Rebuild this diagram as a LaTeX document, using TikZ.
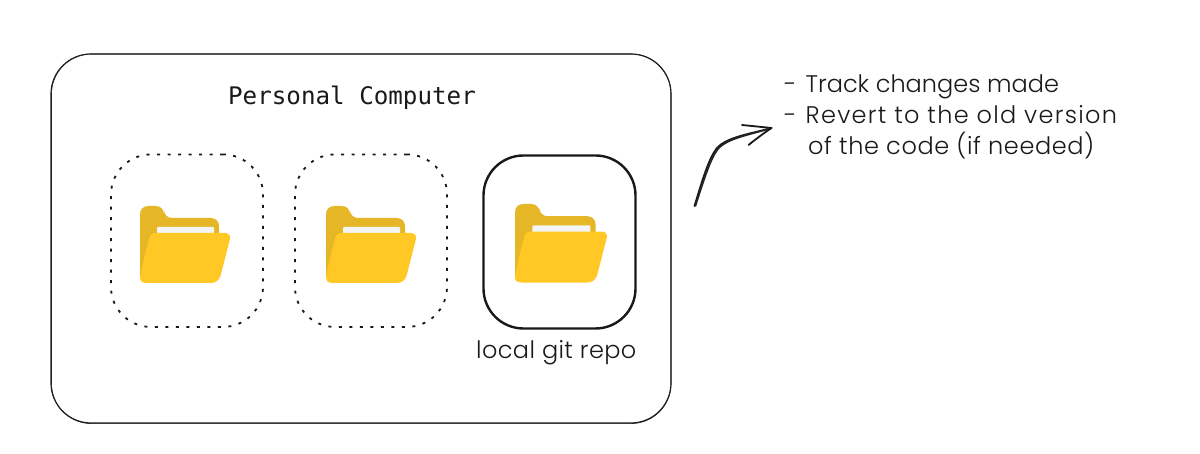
\documentclass[tikz,border=0pt]{standalone}
\usepackage{fontspec}
\newfontfamily\handfont{Poppins Light}
\setmonofont{DejaVu Sans Mono}
\definecolor{folderback}{HTML}{E5B625}
\definecolor{folderfront}{HTML}{FFC824}
\definecolor{folderpaper}{HTML}{F3F5F4}
\tikzset{
  x=1pt,y=-1pt,
  sketch/.style={draw=black!88,line width=1.2pt,rounded corners=40pt},
  dotbox/.style={draw=black!90,line width=1.8pt,dash pattern=on 3pt off 7.5pt,rounded corners=40pt},
  repobox/.style={draw=black!90,line width=2.4pt,rounded corners=40pt},
  hand/.style={font=\handfont\fontsize{24}{31}\selectfont,inner sep=0pt,anchor=base west,text=black!90},
  folder/.pic={
    \fill[folderback,rounded corners=8pt] (0,36) -- (0,0) -- (24,0) -- (24,12) -- (79,12) -- (79,50) -- (0,77) -- cycle;
    \fill[folderback] (18,10) rectangle (24,14);
    \fill[folderpaper,rounded corners=1pt] (17,21) rectangle (74,32);
    \fill[folderfront] (0,72) .. controls (2,60) and (6,43) .. (9,33)
       .. controls (10,28) and (12,27) .. (17,27) -- (85,27)
       .. controls (89,27) and (90.5,30) .. (90,33) -- (81,68)
       .. controls (79,75) and (76,77) .. (70,77) -- (7,77)
       .. controls (2,77) and (0,75) .. (0,72) -- cycle;
  }
}
\begin{document}
\begin{tikzpicture}
\useasboundingbox (0,0) rectangle (1200,454);
\fill[white] (0,0) rectangle (1200,454);
% outer box
\node[sketch,rectangle,minimum width=620pt,minimum height=369pt,inner sep=0pt] (pc) at (361,238.5) {};
\draw[sketch,line width=.6pt] (51.5,54) rectangle (671,423.6);
% title
\node[inner sep=0pt,font=\ttfamily\fontsize{24.2}{28}\selectfont,text=black!90,anchor=base] (title) at (352,105) {Personal Computer};
% boxes
\node[dotbox,rectangle,inner sep=0pt,minimum width=152pt,minimum height=172.5pt] (boxa) at (187,240.7) {};
\node[dotbox,rectangle,inner sep=0pt,minimum width=152pt,minimum height=172.5pt] (boxb) at (371,240.7) {};
\node[repobox,rectangle,minimum width=152pt,minimum height=173pt,inner sep=0pt] (repo) at (559.5,242) {};
% folders
\pic at (140,206) {folder};
\pic at (326,206) {folder};
\pic[scale=1.02] at (515,204) {folder};
% labels
\node[hand] (lgr) at (476,359) {\addfontfeature{LetterSpace=1.6}local git repo};
\node[hand] (noteone) at (784,93) {-\hspace{9pt}Track changes made};
\node[hand] (notetwo) at (784,124) {-\hspace{9pt}\addfontfeature{LetterSpace=5.4}Revert to the old version};
\node[hand] (notethree) at (808,155) {\addfontfeature{LetterSpace=2.5}of the code (if needed)};
% arrow
\coordinate (as) at (694.5,206);
\coordinate (ae) at (771.5,128);
\coordinate (al) at (742,125);
\coordinate (ar) at (748.5,145);
\draw[black!90,line width=1.8pt,line cap=round] (as) .. controls (703,178) and (709,158) .. (717,148) .. controls (727,137) and (750,134) .. (ae);
\draw[black!85,line width=1.5pt,line cap=round] (695.5,206) .. controls (704.5,178) and (710.5,159) .. (718,149) .. controls (728,138) and (750,135) .. (ae);
\draw[black!90,line width=1.8pt,line cap=round,line join=round] (al) .. controls (752,126) and (762,127) .. (ae) .. controls (764,133) and (756,139) .. (ar);
\end{tikzpicture}
\end{document}
